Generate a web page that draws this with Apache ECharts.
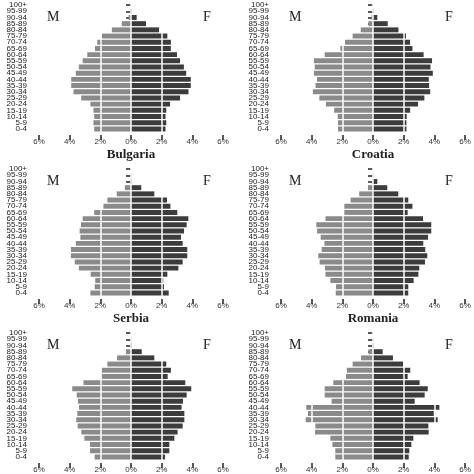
<!DOCTYPE html>
<html><head><meta charset="utf-8">
<script src="https://cdn.jsdelivr.net/npm/echarts@6/dist/echarts.min.js"></script>
<style>html,body{margin:0;padding:0;background:#fff}#c{width:474px;height:474px}</style>
</head><body><div id="c"></div>
<script>
const ages = ['0-4','5-9','10-14','15-19','20-24','25-29','30-34','35-39','40-44','45-49','50-54','55-59','60-64','65-69','70-74','75-79','80-84','85-89','90-94','95-99','100+'];
const xTicks = [-6,-4,-2,0,2,4,6];
const countries = ['Bulgaria','Croatia','Serbia','Romania','',''];
// values listed from 100+ down to 0-4 (reversed below)
const bgM = [0,0.05,0.15,0.6,1.25,1.9,2.2,2.35,2.85,3.15,3.4,3.6,3.9,3.9,3.75,3.25,2.65,2.45,2.4,2.45,2.4];
const bgF = [0,0.05,0.37,0.98,1.83,2.37,2.6,2.6,3.0,3.2,3.45,3.6,3.9,3.9,3.75,3.2,2.55,2.3,2.25,2.3,2.25];
const hrM = [0,0.03,0.1,0.3,0.8,1.33,1.83,2.13,3.15,3.85,3.8,3.85,3.65,3.75,3.95,3.5,3.07,2.53,2.3,2.28,2.28];
const hrF = [0,0.03,0.28,0.96,1.66,2.15,2.42,2.57,3.3,3.85,3.75,3.9,3.64,3.66,3.73,3.35,2.94,2.42,2.2,2.18,2.18];
const rsM = [0,0.02,0.05,0.4,0.93,1.54,1.8,2.4,3.15,3.26,3.35,3.3,3.6,3.93,3.95,3.67,3.4,2.63,2.33,2.37,2.65];
const rsF = [0,0.02,0.05,0.67,1.52,2.35,2.57,3.02,3.74,3.63,3.46,3.26,3.37,3.67,3.67,3.37,3.09,2.37,2.1,2.15,2.46];
const roM = [0,0.02,0.05,0.33,0.9,1.46,1.87,1.87,3.1,3.7,3.65,3.41,3.17,3.35,3.57,3.48,3.13,3.1,2.78,2.41,2.43];
const roF = [0,0.03,0.28,0.93,1.65,2.3,2.57,2.26,3.26,3.8,3.8,3.59,3.28,3.41,3.54,3.39,3.02,2.96,2.65,2.3,2.3];
const p5M = [0,0.02,0.05,0.33,0.91,1.54,1.91,1.91,3.1,3.83,3.54,3.46,3.39,3.5,3.57,3.48,3.24,3.04,2.67,2.67,2.37];
const p5F = [0,0.02,0.05,0.7,1.52,2.3,2.6,2.39,3.54,3.93,3.63,3.39,3.3,3.48,3.48,3.37,3.04,2.83,2.5,2.5,2.22];
const p6M = [0,0.02,0.05,0.3,0.78,1.33,1.7,1.76,2.59,3.15,3.15,2.7,4.35,4.24,4.39,3.76,3.78,2.78,2.65,2.46,2.46];
const p6F = [0,0.02,0.05,0.63,1.3,1.96,2.43,2.26,3.04,3.57,3.37,2.72,4.33,3.96,4.22,3.61,3.63,2.63,2.5,2.37,2.33];
const males = [bgM,hrM,rsM,roM,p5M,p6M];
const females = [bgF,hrF,rsF,roF,p5F,p6F];

const lefts=[39,281], tops=[2,166,330];
const grid=[],xAxis=[],yAxis=[],series=[],graphic=[];
for(let i=0;i<6;i++){
  const c=i%2,r=Math.floor(i/2);
  grid.push({left:lefts[c],top:tops[r],width:184,height:130});
  xAxis.push({gridIndex:i,type:'value',min:-6,max:6,interval:2,offset:3,
    axisLine:{show:false},axisTick:{show:true,length:5,lineStyle:{color:'#222',width:1.5}},
    splitLine:{show:false},
    axisLabel:{fontSize:8,color:'#333',margin:3,fontFamily:'Liberation Sans',formatter:v=>Math.abs(v)+'%'}});
  yAxis.push({gridIndex:i,type:'category',data:ages,offset:9,
    axisLine:{show:false},axisTick:{show:true,length:5,alignWithLabel:true,lineStyle:{color:'#222',width:1.5}},
    axisLabel:{fontSize:8,color:'#222',margin:3,interval:0,fontFamily:'Liberation Sans'}});
  series.push({type:'bar',xAxisIndex:i,yAxisIndex:i,data:males[i].slice().reverse().map(v=>-v),
    itemStyle:{color:'#8a8a8a'},barWidth:'80%',barGap:'-100%',silent:true,
    markLine:{silent:true,symbol:'none',label:{show:false},lineStyle:{color:'#fff',type:'solid',width:1.5},
      data:[-4,-2,0,2,4].map(v=>({xAxis:v}))}});
  series.push({type:'bar',xAxisIndex:i,yAxisIndex:i,data:females[i].slice().reverse(),
    itemStyle:{color:'#3c3c3c'},barWidth:'80%',barGap:'-100%',silent:true,z:1});
  graphic.push({type:'text',left:lefts[c]+8,top:tops[r]+8,style:{text:'M',font:'14px "Liberation Serif"',fill:'#222'}});
  graphic.push({type:'text',left:lefts[c]+164,top:tops[r]+8,style:{text:'F',font:'14px "Liberation Serif"',fill:'#222'}});
  if(countries[i]) graphic.push({type:'text',left:lefts[c]+92,top:tops[r]+146,style:{text:countries[i],font:'bold 13px "Liberation Serif"',fill:'#222',align:'center'}});
}
// centre text horizontally
graphic.forEach(g=>{if(g.style.align==='center'){g.x=g.left;delete g.left;g.y=g.top;delete g.top;g.style.verticalAlign='top';}});
const chart=echarts.init(document.getElementById('c'));
chart.setOption({animation:false,grid,xAxis,yAxis,series,graphic});
</script></body></html>
